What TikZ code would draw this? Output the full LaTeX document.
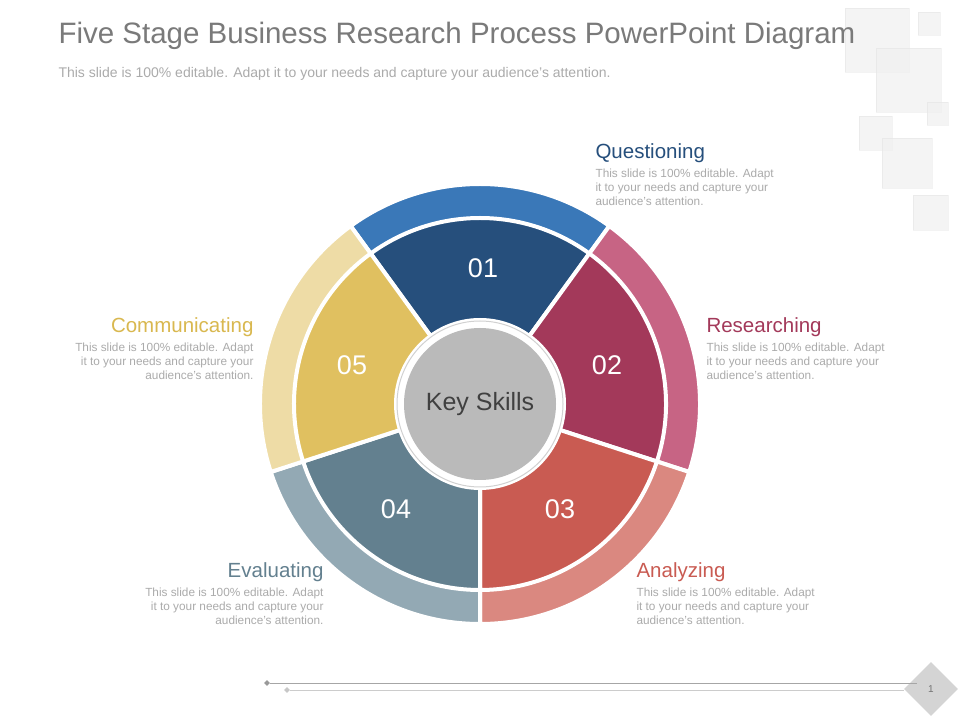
\documentclass[tikz,border=0pt]{standalone}
\usepackage{fontspec}
\setmainfont{Liberation Sans}
\usetikzlibrary{shapes.geometric}
\definecolor{cA}{HTML}{264F7C}\definecolor{oA}{HTML}{3A78B8}
\definecolor{cB}{HTML}{A3395A}\definecolor{oB}{HTML}{C76484}
\definecolor{cC}{HTML}{C95B52}\definecolor{oC}{HTML}{DA8880}
\definecolor{cD}{HTML}{63808F}\definecolor{oD}{HTML}{93A9B4}
\definecolor{cE}{HTML}{E0C060}\definecolor{oE}{HTML}{EEDCA6}
\definecolor{tE}{HTML}{D9B84F}
\definecolor{gtext}{HTML}{ABABAB}
\definecolor{sq}{HTML}{F0F0F0}
\tikzset{
 seg/.style={draw=white,line width=4pt,line join=round},
 num/.style={text=white,font=\fontsize{27}{27}\selectfont},
 ttl/.style={font=\fontsize{20.5}{20.5}\selectfont},
 desc/.style={text=gtext,font=\fontsize{11.8}{14.3}\selectfont},
 deco/.style={fill=sq,fill opacity=0.7,draw=sq!80!gray,draw opacity=0.3},
}
\newcommand{\sect}[5]{% color, a, b, r1, r2
 \fill[#1,seg] (#2:#5) arc[start angle=#2,end angle=#3,radius=#5] -- (#3:#4) arc[start angle=#3,end angle=#2,radius=#4] -- cycle;}
\begin{document}
\begin{tikzpicture}[x=1pt,y=1pt]
\fill[white] (0,0) rectangle (960,720);
\useasboundingbox (0,0) rectangle (960,720);
% deco squares
\fill[deco] (845,648) rectangle (909,712);
\fill[deco] (918,685) rectangle (940,708);
\fill[deco] (876,608) rectangle (941,672);
\fill[deco] (927,595) rectangle (948,618);
\fill[deco] (859,570) rectangle (892,604);
\fill[deco] (882,532) rectangle (932,582);
\fill[deco] (913,490) rectangle (948,525);
% title
\node[anchor=west,text=black!52,font=\fontsize{29.5}{29.5}\selectfont] (title) at (55,684) {Five Stage Business Research Process PowerPoint Diagram};
\node[anchor=west,text=gtext,font=\fontsize{14}{14}\selectfont] (sub) at (55,646) {This slide is 100\% editable. Adapt it to your needs and capture your audience's attention.};
% wheel
\begin{scope}[shift={(480,316)}]
\sect{oA}{54}{126}{184}{220}
\sect{oB}{-18}{54}{184}{220}
\sect{oC}{-90}{-18}{184}{220}
\sect{oD}{-162}{-90}{184}{220}
\sect{oE}{126}{198}{184}{220}
\sect{cA}{54}{126}{80}{186}
\sect{cB}{-18}{54}{80}{186}
\sect{cC}{-90}{-18}{80}{186}
\sect{cD}{-162}{-90}{80}{186}
\sect{cE}{126}{198}{80}{186}
\fill[white] (0,0) circle (86);
\draw[black!18,line width=1pt] (0,0) circle (83);
\fill[black!27] (0,0) circle (76);
\node[text=black!75,font=\fontsize{25}{25}\selectfont] (key) at (0,0) {Key Skills};
\end{scope}
\node[num] (n1) at (483,452) {01};
\node[num] (n2) at (607,355) {02};
\node[num] (n3) at (560,211) {03};
\node[num] (n4) at (396,211) {04};
\node[num] (n5) at (352,355) {05};
% labels
\node[ttl,text=cA,anchor=west] (q) at (592,567) {Questioning};
\node[desc,anchor=north west,align=left] (qd) at (592,555) {This slide is 100\% editable. Adapt\\it to your needs and capture your\\audience's attention.};
\node[ttl,text=cB,anchor=west] (r) at (703,393) {Researching};
\node[desc,anchor=north west,align=left] (rd) at (703,381) {This slide is 100\% editable. Adapt\\it to your needs and capture your\\audience's attention.};
\node[ttl,text=cC,anchor=west] (a) at (633,148) {Analyzing};
\node[desc,anchor=north west,align=left] (ad) at (633,136) {This slide is 100\% editable. Adapt\\it to your needs and capture your\\audience's attention.};
\node[ttl,text=cD,anchor=east] (e) at (327,148) {Evaluating};
\node[desc,anchor=north east,align=right] (ed) at (327,136) {This slide is 100\% editable. Adapt\\it to your needs and capture your\\audience's attention.};
\node[ttl,text=tE,anchor=east] (c) at (257,393) {Communicating};
\node[desc,anchor=north east,align=right] (cd) at (257,381) {This slide is 100\% editable. Adapt\\it to your needs and capture your\\audience's attention.};
% footer
\node[diamond,fill=black!40,inner sep=0pt,minimum size=6pt] (d1) at (267,37) {};
\node[diamond,fill=black!22,inner sep=0pt,minimum size=6pt] (d2) at (287,30) {};
\node[diamond,fill=black!17,inner sep=0pt,minimum width=54pt,minimum height=54pt,text=black!55,font=\fontsize{10}{10}\selectfont] (pg) at (931,31) {1};
\draw[black!35,line width=0.8pt] (d1) -- (pg.north west|-d1);
\draw[black!20,line width=0.8pt] (d2) -- (pg.west|-d2);
\end{tikzpicture}
\end{document}
